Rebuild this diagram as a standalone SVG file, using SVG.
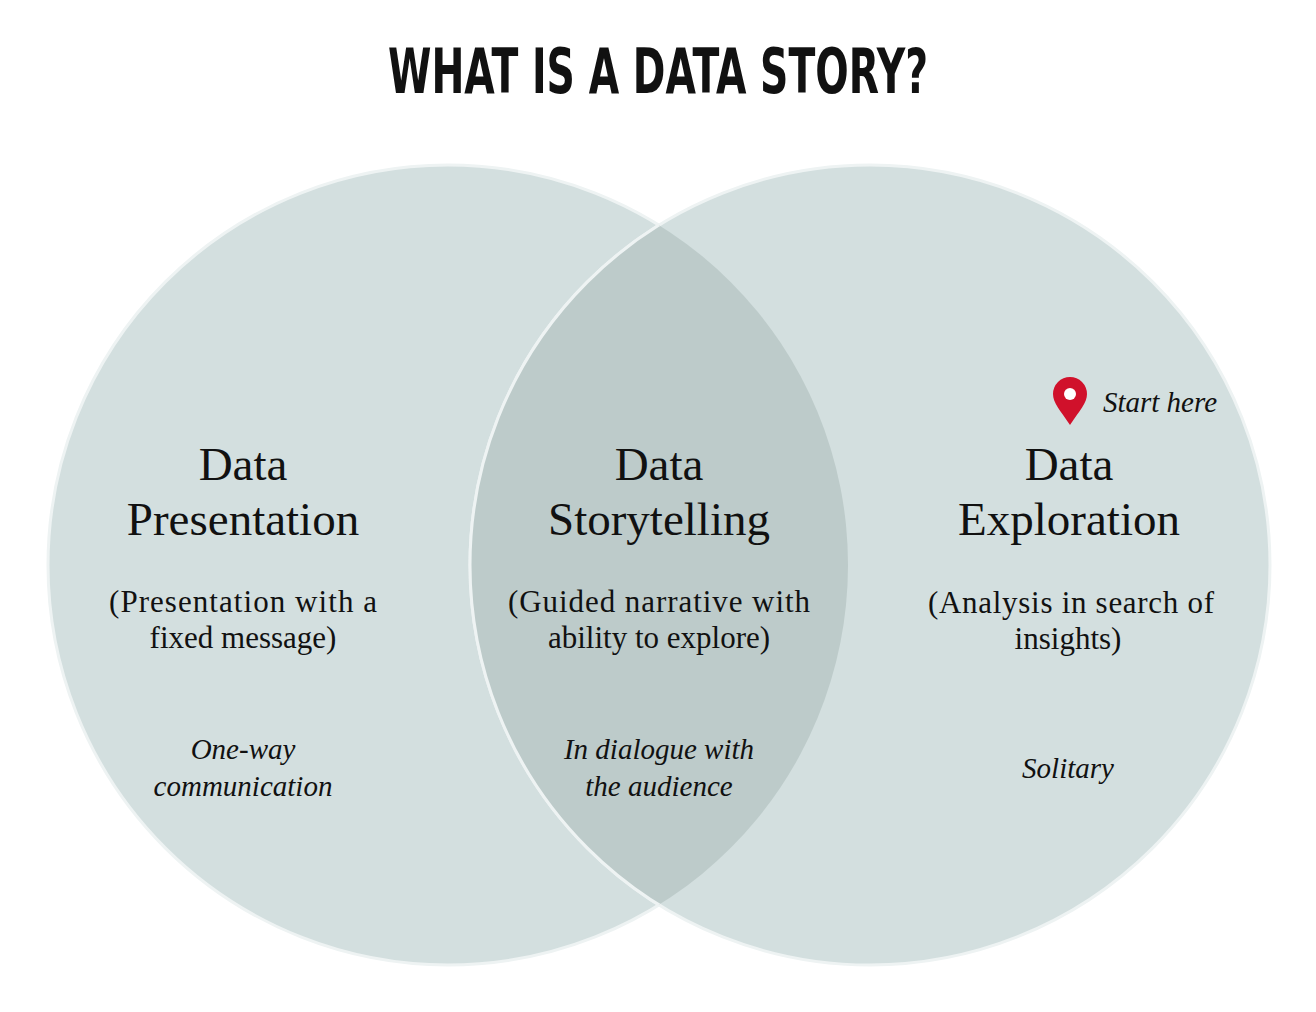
<svg xmlns="http://www.w3.org/2000/svg" width="1316" height="1012" viewBox="0 0 1316 1012">
<style>
.h{font-family:"Liberation Serif",serif;font-size:47px;fill:#111;text-anchor:middle}
.s{font-family:"Liberation Serif",serif;font-size:31px;fill:#111;text-anchor:middle}
.i{font-family:"Liberation Serif",serif;font-size:29px;font-style:italic;fill:#111;text-anchor:middle}
</style>
<rect width="1316" height="1012" fill="#fff"/>
<text x="658" y="93" font-family="DejaVu Sans Condensed,sans-serif" font-weight="bold" font-size="62" text-anchor="middle" textLength="540" lengthAdjust="spacingAndGlyphs" fill="#111">WHAT IS A DATA STORY?</text>
<defs><clipPath id="cl"><circle cx="448" cy="565" r="400"/></clipPath></defs>
<g id="left"><circle cx="448" cy="565" r="400" fill="#d3dfdf" stroke="#eef3f3" stroke-width="3"/></g>
<g id="right"><circle cx="870" cy="565" r="400" fill="#d3dfdf" stroke="#eef3f3" stroke-width="3"/></g>
<g id="overlap"><circle cx="870" cy="565" r="400" fill="#bdcbca" clip-path="url(#cl)"/>
<circle cx="870" cy="565" r="400" fill="none" stroke="#eef3f3" stroke-width="3" clip-path="url(#cl)"/></g>
<g id="n1"><text class="h" x="243" y="480">Data</text><text class="h" x="243" y="535">Presentation</text>
<text class="s" x="243" y="612" textLength="268">(Presentation with a</text><text class="s" x="243" y="648">fixed message)</text>
<text class="i" x="243" y="759">One-way</text><text class="i" x="243" y="796">communication</text></g>
<g id="n2"><text class="h" x="659" y="480">Data</text><text class="h" x="659" y="535">Storytelling</text>
<text class="s" x="659" y="612" textLength="302">(Guided narrative with</text><text class="s" x="659" y="648">ability to explore)</text>
<text class="i" x="659" y="759">In dialogue with</text><text class="i" x="659" y="796">the audience</text></g>
<g id="n3"><text class="h" x="1069" y="480">Data</text><text class="h" x="1069" y="535">Exploration</text>
<text class="s" x="1071" y="613" textLength="286">(Analysis in search of</text><text class="s" x="1068" y="649">insights)</text>
<text class="i" x="1068" y="778">Solitary</text></g>
<g id="pin"><path d="M1070 425 C1060 410 1053 403 1053 394 A17 17 0 0 1 1087 394 C1087 403 1080 410 1070 425Z" fill="#d0112b"/><circle cx="1070" cy="394" r="6" fill="#fff"/>
<text class="i" x="1160" y="412">Start here</text></g>
</svg>
